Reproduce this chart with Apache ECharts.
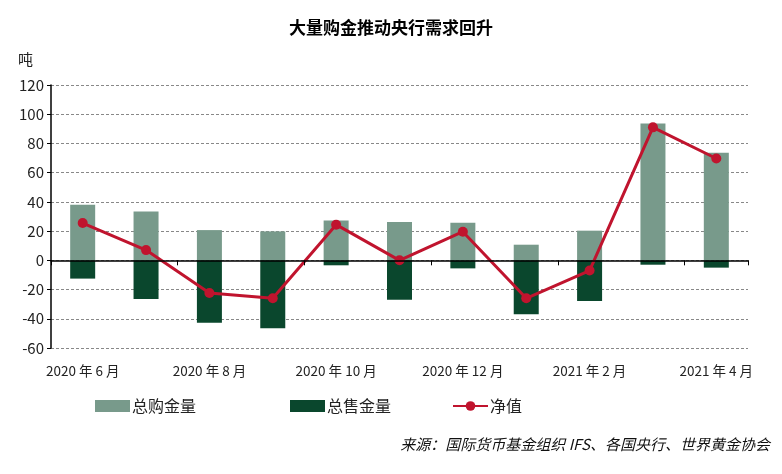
<!DOCTYPE html>
<html style="height: 100%">
<head>
	<meta charset="utf-8">
	<title>大量购金推动央行需求回升</title>
	<script src="https://cdn.jsdelivr.net/npm/echarts@6/dist/echarts.min.js"></script>
</head>
<body style="height: 100%; margin: 0; background: #fff">
	<div id="chart" style="width: 782px; height: 474px"></div>
	<script type="text/javascript">
		// 月份
		var months = ['2020 年 6 月', '2020 年 7 月', '2020 年 8 月', '2020 年 9 月', '2020 年 10 月', '2020 年 11 月',
			'2020 年 12 月', '2021 年 1 月', '2021 年 2 月', '2021 年 3 月', '2021 年 4 月'];
		// 总购金量 (吨)
		var buy = [38, 33.5, 20.7, 19.8, 27.3, 26.2, 25.7, 10.7, 20.3, 93.6, 73.6];
		// 总售金量 (吨)
		var sell = [-12.5, -26.4, -42.8, -46.5, -3.4, -26.9, -5.5, -36.9, -27.8, -3, -5];
		// 净值
		var net = [25.5, 7, -22.3, -26, 24.4, 0, 19.6, -26, -7, 91, 69.7];

		var font = '"Noto Sans CJK SC", "Noto Sans", sans-serif';
		var cBuy = '#789a8b', cSell = '#0a472d', cNet = '#c0142e';

		var myChart = echarts.init(document.getElementById('chart'));
		var option = {
			backgroundColor: '#fff',
			textStyle: { fontFamily: font },
			title: {
				text: '大量购金推动央行需求回升',
				left: 'center',
				top: 14,
				textStyle: { fontSize: 17, fontWeight: 'bold', color: '#000', fontFamily: font }
			},
			grid: { left: 51, right: 34, top: 85, bottom: 126 },
			legend: [
				{ data: [{ name: '总购金量', icon: 'rect' }], left: 90, top: 393 },
				{ data: [{ name: '总售金量', icon: 'rect' }], left: 285, top: 393 },
				{ data: ['净值'], left: 447, top: 393 }
			].map(function (l) {
				l.itemWidth = 35;
				l.itemHeight = 12;
				l.textStyle = { fontSize: 16, color: '#222', padding: [0, 0, 0, -3] };
				return l;
			}),
			xAxis: {
				type: 'category',
				data: months,
				axisLine: { onZero: true, lineStyle: { color: '#000', width: 1.5 } },
				axisTick: { show: true, length: 5, lineStyle: { color: '#000' } },
				axisLabel: { interval: 1, fontSize: 13.5, color: '#222', margin: 16 },
				z: 10
			},
			yAxis: {
				type: 'value',
				min: -60,
				max: 120,
				interval: 20,
				axisLine: { show: true, lineStyle: { color: '#000', width: 1.5 } },
				axisTick: { show: true, length: 4, lineStyle: { color: '#000' } },
				axisLabel: { fontSize: 15, color: '#222', margin: 7 },
				splitLine: { lineStyle: { color: '#888', type: [3, 2], width: 1 } }
			},
			graphic: [
				{
					type: 'text', left: 18, top: 52,
					style: { text: '吨', fontSize: 15, fill: '#222', fontFamily: font }
				},
				{
					type: 'text', right: 12, top: 437,
					style: { text: '来源：国际货币基金组织 IFS、各国央行、世界黄金协会', fontSize: 15, fontStyle: 'italic', fill: '#111', fontFamily: font }
				}
			],
			series: [
				{
					name: '总购金量',
					type: 'bar',
					stack: 'gold',
					barWidth: 25,
					itemStyle: { color: cBuy },
					data: buy
				},
				{
					name: '总售金量',
					type: 'bar',
					stack: 'gold',
					barWidth: 25,
					itemStyle: { color: cSell },
					data: sell
				},
				{
					name: '净值',
					type: 'line',
					symbol: 'circle',
					symbolSize: 10,
					lineStyle: { color: cNet, width: 3 },
					itemStyle: { color: cNet },
					data: net,
					z: 5
				}
			]
		};
		myChart.setOption(option, true);
	</script>
</body>
</html>
